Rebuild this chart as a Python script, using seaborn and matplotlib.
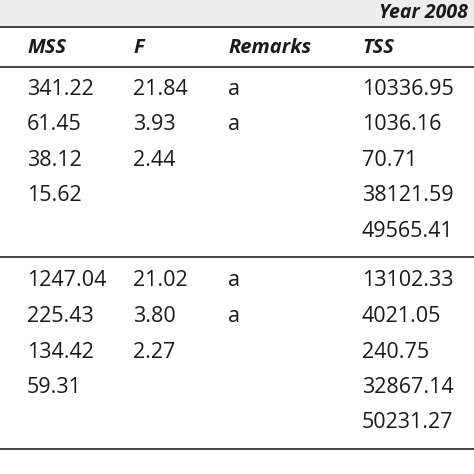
import matplotlib
matplotlib.use("Agg")
import matplotlib.pyplot as plt
import seaborn as sns

sns.set_theme(style="white")
plt.rcParams['font.family'] = ['Open Sans', 'DejaVu Sans']

# Table data ##################################################################
columns = ["MSS", "F", "Remarks", "TSS"]
mss_2008a = ["341.22", "61.45", "38.12", "15.62", ""]
f_2008a = ["21.84", "3.93", "2.44", "", ""]
rem_2008a = ["a", "a", "", "", ""]
tss_2008a = ["10336.95", "1036.16", "70.71", "38121.59", "49565.41"]
mss_2008b = ["1247.04", "225.43", "134.42", "59.31", ""]
f_2008b = ["21.02", "3.80", "2.27", "", ""]
rem_2008b = ["a", "a", "", "", ""]
tss_2008b = ["13102.33", "4021.05", "240.75", "32867.14", "50231.27"]

col_x = [27, 133, 228, 362]
fig, ax = plt.subplots(figsize=(4.74, 4.74), dpi=100)
ax.set_position([0, 0, 1, 1])
ax.set_xlim(0, 474)
ax.set_ylim(474, 0)
ax.axis("off")

ax.axhspan(0, 27, color="#ededed", zorder=0)
ax.text(468, 13, "Year 2008", ha="right", va="center", fontsize=14,
        fontweight="bold", style="italic", color="#1a1a1a")
for y in [27, 67, 257, 449]:
    ax.axhline(y, color="#333333", lw=1.3)

for x, c in zip(col_x, columns):
    ax.text(x, 48, c, ha="left", va="center", fontsize=14.5,
            fontweight="bold", style="italic", color="#1a1a1a")

blocks = [((mss_2008a, f_2008a, rem_2008a, tss_2008a), 89),
          ((mss_2008b, f_2008b, rem_2008b, tss_2008b), 281)]
for cols, y0 in blocks:
    for x, vals in zip(col_x, cols):
        for i, v in enumerate(vals):
            ax.text(x, y0 + i * 35.5, v, ha="left", va="center",
                    fontsize=15.5, color="#1a1a1a")

fig.savefig("out.png", dpi=100)
